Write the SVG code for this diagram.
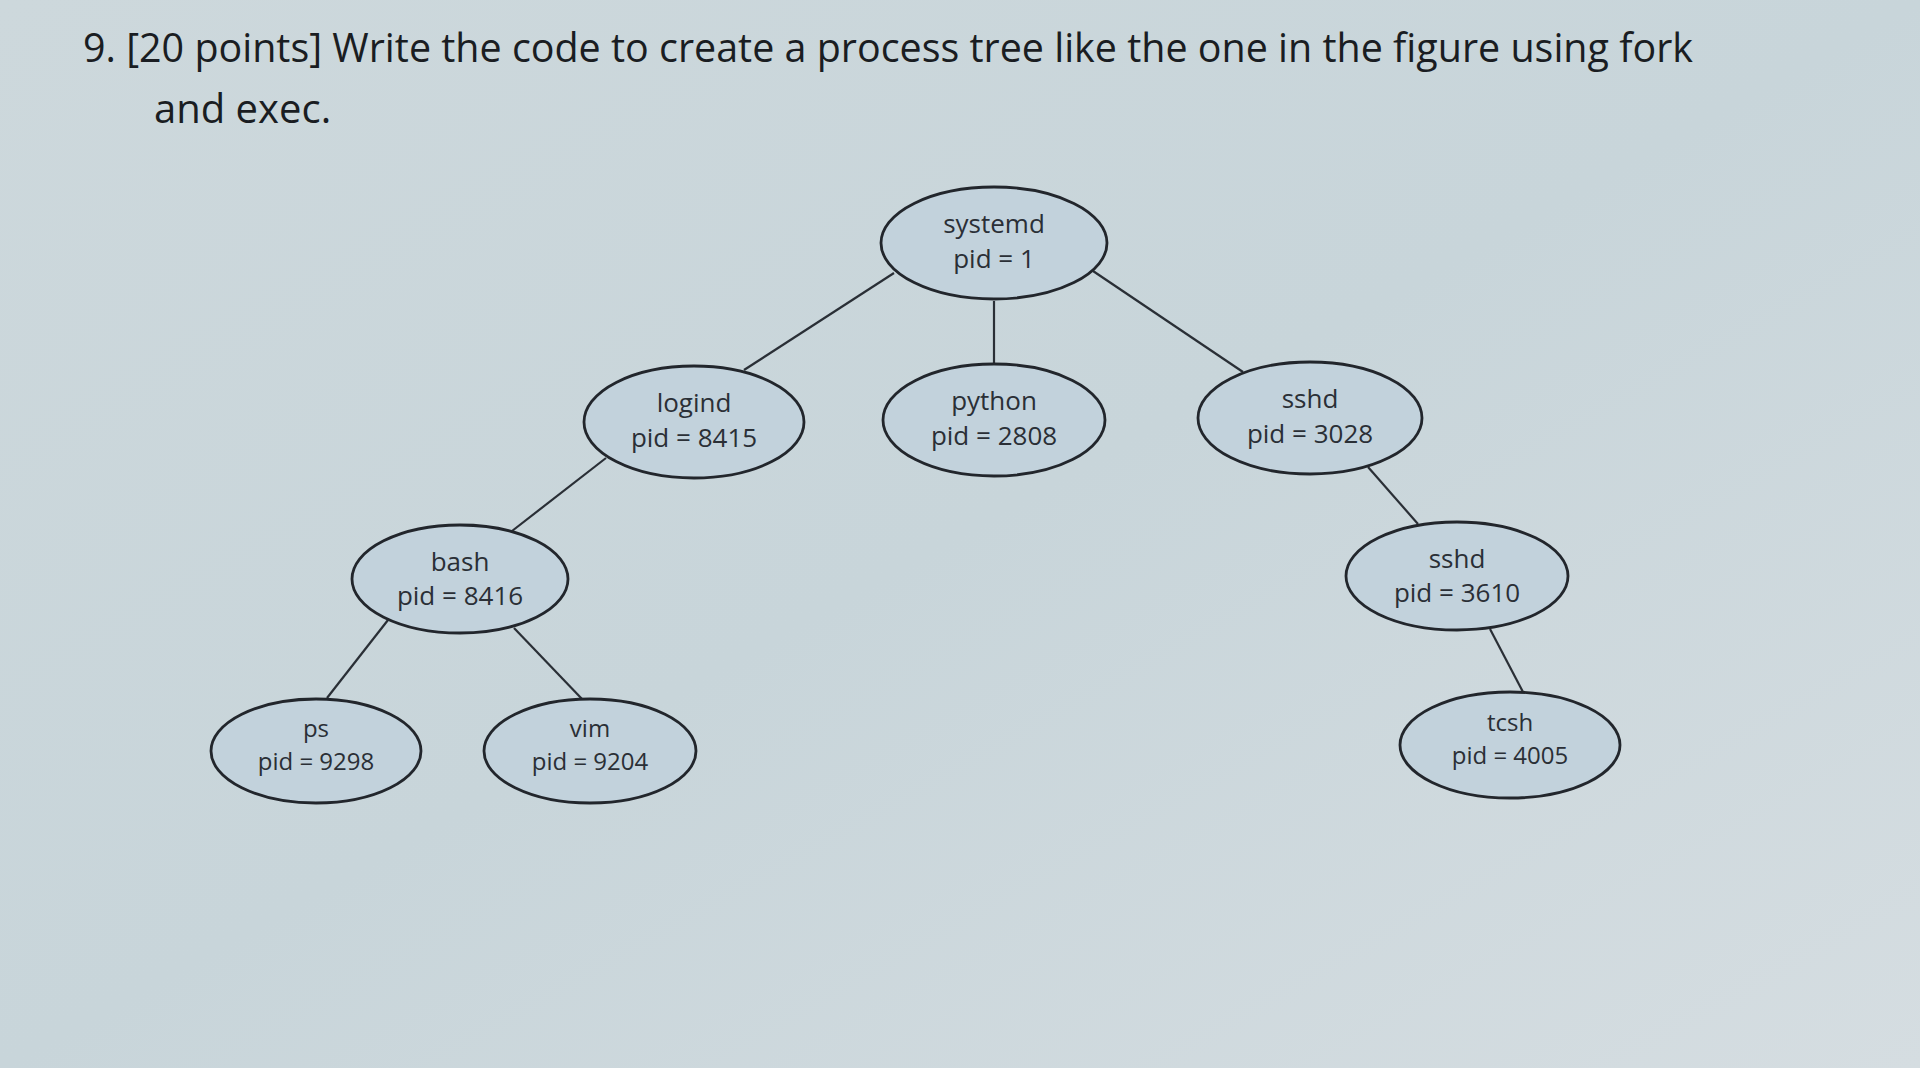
<svg xmlns="http://www.w3.org/2000/svg" width="1920" height="1068" viewBox="0 0 1920 1068">
<defs>
<linearGradient id="bg" x1="0" y1="0" x2="1" y2="1">
<stop offset="0" stop-color="#cdd8dc"/>
<stop offset="0.5" stop-color="#c8d5da"/>
<stop offset="1" stop-color="#d5dde1"/>
</linearGradient>
<style>
.n ellipse{fill:#c2d2dc;stroke:#22262c;stroke-width:2.8}
.n text{font-family:"Open Sans","Liberation Sans",sans-serif;font-size:26px;fill:#2a2f36;text-anchor:middle}
.n text.s{font-size:24px}
#edges line{stroke:#2a2f36;stroke-width:2.2}
.t{font-family:"Open Sans","Liberation Sans",sans-serif;font-size:40px;fill:#1a1d22}
</style>
</defs>
<rect width="1920" height="1068" fill="url(#bg)"/>
<text class="t" x="83" y="62" textLength="1610" lengthAdjust="spacingAndGlyphs">9. [20 points] Write the code to create a process tree like the one in the figure using fork</text>
<text class="t" x="154" y="123">and exec.</text>
<g id="edges">
<line x1="894" y1="273" x2="744" y2="370"/>
<line x1="994" y1="301" x2="994" y2="364"/>
<line x1="1093" y1="271" x2="1243" y2="372"/>
<line x1="606" y1="458" x2="512" y2="531"/>
<line x1="388" y1="620" x2="327" y2="698"/>
<line x1="514" y1="628" x2="582" y2="699"/>
<line x1="1368" y1="467" x2="1418" y2="524"/>
<line x1="1490" y1="629" x2="1523" y2="692"/>
</g>
<g id="systemd" class="n"><ellipse cx="994" cy="243" rx="113" ry="56"/><text x="994" y="233">systemd</text><text x="994" y="268">pid = 1</text></g>
<g id="logind" class="n"><ellipse cx="694" cy="422" rx="110" ry="56"/><text x="694" y="412">logind</text><text x="694" y="447">pid = 8415</text></g>
<g id="python" class="n"><ellipse cx="994" cy="420" rx="111" ry="56"/><text x="994" y="410">python</text><text x="994" y="445">pid = 2808</text></g>
<g id="sshd1" class="n"><ellipse cx="1310" cy="418" rx="112" ry="56"/><text x="1310" y="408">sshd</text><text x="1310" y="443">pid = 3028</text></g>
<g id="bash" class="n"><ellipse cx="460" cy="579" rx="108" ry="54"/><text x="460" y="571">bash</text><text x="460" y="605">pid = 8416</text></g>
<g id="sshd2" class="n"><ellipse cx="1457" cy="576" rx="111" ry="54"/><text x="1457" y="568">sshd</text><text x="1457" y="602">pid = 3610</text></g>
<g id="ps" class="n"><ellipse cx="316" cy="751" rx="105" ry="52"/><text class="s" x="316" y="737">ps</text><text class="s" x="316" y="770">pid = 9298</text></g>
<g id="vim" class="n"><ellipse cx="590" cy="751" rx="106" ry="52"/><text class="s" x="590" y="737">vim</text><text class="s" x="590" y="770">pid = 9204</text></g>
<g id="tcsh" class="n"><ellipse cx="1510" cy="745" rx="110" ry="53"/><text class="s" x="1510" y="731">tcsh</text><text class="s" x="1510" y="764">pid = 4005</text></g>
</svg>
